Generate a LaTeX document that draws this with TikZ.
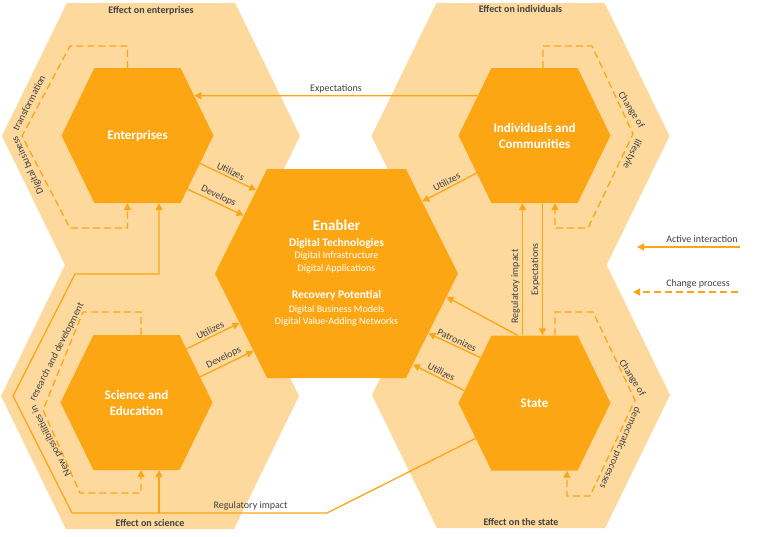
\documentclass[tikz,border=0pt]{standalone}
\usepackage{fontspec}
\setmainfont{Carlito}
\usepackage{tikz}
\usetikzlibrary{shapes.symbols, arrows.meta, positioning, calc}

\definecolor{hexlight}{HTML}{FDD99E}
\definecolor{hexdark}{HTML}{FCA614}
\definecolor{txtgray}{HTML}{404040}

\begin{document}
\begin{tikzpicture}[x=1pt, y=-1pt,
  hex/.style={signal, signal to=west and east, signal pointer angle=128, draw=none, inner sep=0pt},
  outerhex/.style={hex, fill=hexlight, minimum width=298pt, minimum height=266pt},
  innerhex/.style={hex, fill=hexdark, minimum width=152pt, minimum height=135pt, text=white, align=center, font=\fontsize{13}{16}\selectfont\bfseries},
  act/.style={draw=hexdark, line width=1.3pt, -{Triangle[length=7pt, width=7pt]}},
  chg/.style={act, dash pattern=on 7pt off 4pt},
  lbl/.style={text=txtgray, font=\fontsize{10}{12}\selectfont, inner sep=2pt},
  eff/.style={lbl, font=\fontsize{10}{12}\selectfont\bfseries}]
\useasboundingbox (0,0) rectangle (768,536);

% Effect areas
\foreach \name/\x/\y in {oent/151/136, oind/520.5/136, osci/150/396, ost/521/395}
  \node[outerhex] (\name) at (\x,\y) {};
\node[eff, below=1pt of oent.north] {Effect on enterprises};
\node[eff, below=0pt of oind.north] {Effect on individuals};
\node[eff, above=0pt of osci.south] {Effect on science};
\node[eff, above=0pt of ost.south] {Effect on the state};

% Actors
\node[innerhex] (ent) at (137.5,135.5) {Enterprises};
\node[innerhex] (ind) at (534.5,135.5) {Individuals and\\Communities};
\node[innerhex] (sci) at (136.5,402.5) {Science and\\Education};
\node[innerhex] (st) at (534.5,403) {State};
\node[innerhex, signal pointer angle=127, minimum width=243pt, minimum height=209pt,
      font=\fontsize{10}{12.5}\selectfont] (en) at (336.5,273.5)
  {\textbf{\fontsize{15}{15}\selectfont Enabler}\\[3pt]
   \textbf{\fontsize{11.5}{13}\selectfont Digital Technologies}\\
   Digital Infrastructure\\
   Digital Applications\\[14.5pt]
   \textbf{\fontsize{11.5}{13}\selectfont Recovery Potential}\\[1.5pt]
   Digital Business Models\\
   Digital Value-Adding Networks};

% Active interactions
\draw[act] (ind.145) -- node[lbl, above] {Expectations} (ent.35);
\draw[act] (ent.-24) -- node[lbl, above, sloped] {Utilizes} (en.134);
\draw[act] (ent.-47) -- node[lbl, above, sloped] {Develops} (en.148);
\draw[act] (sci.47) -- node[lbl, above, sloped] {Utilizes} (en.-153);
\draw[act] (sci.22) -- node[lbl, above, sloped] {Develops} (en.-137);
\draw[act] (ind.-147) -- node[lbl, above, sloped] {Utilizes} (en.40);
\draw[act] ([xshift=-17pt]st.north) -- (en.-12.5);
\draw[act] (st.140) -- node[lbl, above, sloped] {Patronizes} (en.-33);
\draw[act] (st.170) -- node[lbl, above, sloped] {Utilizes} (en.-50);
\draw[act] ([xshift=-12pt]st.north) -- node[lbl, pos=0.37, rotate=90, anchor=south] {Regulatory impact} ([xshift=-12pt]ind.south);
\draw[act] ([xshift=8pt]ind.south) -- node[lbl, midway, rotate=90, anchor=south] {Expectations} ([xshift=8pt]st.north);

% Regulatory impact from the state
\coordinate (r1) at (327,513);
\coordinate (r2) at (72,513);
\coordinate (r3) at (13,396);
\coordinate (r4) at (75,274);
\coordinate (r5) at (159,274);
\draw[act] (st.-149.5) -- (r1) -- node[lbl, above, pos=0.3] {Regulatory impact} (r2) -- (r3) -- (r4) -- (r5) -- (r5 |- ent.south);
\draw[act] (r5 |- r1) -- (r5 |- sci.south);

% Change processes
\draw[chg] ([xshift=-10pt]ent.north) |- (70,46) -- (22,136) -- (70,228) -| ([xshift=-10pt]ent.south);
\draw[chg] ([xshift=8.5pt]ind.north) |- (592,46) -- (633,134) -- (588,228) -| ([xshift=20.5pt]ind.south);
\draw[chg] ([xshift=4.5pt]sci.north) |- (83,312) -- (43,410) -- (80,493) -| ([xshift=4.5pt]sci.south);
\draw[chg] ([xshift=20.5pt]st.north) |- (593,312) -- (635,400) -- (590,496) -| ([xshift=32.5pt]st.south);
\node[lbl, rotate=63] at (29,103) {transformation};
\node[lbl, rotate=115] at (28,165) {Digital business};
\node[lbl, rotate=-58] at (631,110) {Change of};
\node[lbl, rotate=-115] at (632,154) {lifestyle};
\node[lbl, rotate=63] at (57,352) {research and development};
\node[lbl, rotate=117] at (51,441) {New possibilities in};
\node[lbl, rotate=-58] at (632,378) {Change of};
\node[lbl, rotate=-114] at (620,448) {democratic processes};

% Legend
\node[lbl] (lact) at (702,239) {Active interaction};
\node[lbl] (lchg) at (698,284) {Change process};
\coordinate (a1) at (740,247);
\coordinate (a2) at (637,247);
\coordinate (c1) at (738,292);
\coordinate (c2) at (633,292);
\draw[act] (a1) -- (a2);
\draw[chg] (c1) -- (c2);
\end{tikzpicture}
\end{document}
